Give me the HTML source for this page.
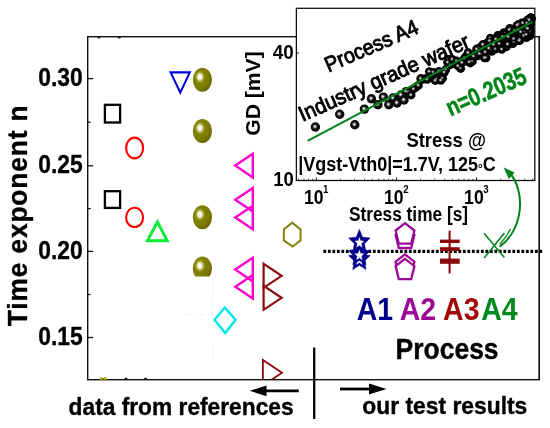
<!DOCTYPE html><html><head><meta charset="utf-8"><title>Time exponent n</title>
<style>html,body{margin:0;padding:0;background:#fff;overflow:hidden}svg{display:block}text{font-family:"Liberation Sans",Arial,sans-serif;font-weight:bold}.h{stroke:#000;stroke-width:0.35px}.r{font-weight:normal}</style></head><body>
<svg width="550" height="428" viewBox="0 0 550 428">
<defs><radialGradient id="ball" cx="0.37" cy="0.38" r="0.62" fx="0.37" fy="0.38"><stop offset="0" stop-color="#ffffff"/><stop offset="0.1" stop-color="#ffffff"/><stop offset="0.2" stop-color="#e4e2b4"/><stop offset="0.32" stop-color="#a09c30"/><stop offset="0.44" stop-color="#828200"/><stop offset="0.72" stop-color="#7c7c00"/><stop offset="1" stop-color="#6a6800"/></radialGradient>
<radialGradient id="bb" cx="0.45" cy="0.45" r="0.5"><stop offset="0" stop-color="#ffffff"/><stop offset="0.2" stop-color="#b8b8b8"/><stop offset="0.5" stop-color="#161616"/><stop offset="1" stop-color="#000"/></radialGradient><radialGradient id="b2" cx="0.45" cy="0.45" r="0.5"><stop offset="0" stop-color="#e0e0e0"/><stop offset="0.2" stop-color="#707070"/><stop offset="0.42" stop-color="#080808"/><stop offset="1" stop-color="#000"/></radialGradient></defs>
<rect width="550" height="428" fill="#fff"/>
<rect x="87.7" y="36.7" width="451.59999999999997" height="343.0" fill="none" stroke="#111" stroke-width="1.4"/>
<line x1="87.7" x2="93.2" y1="78.6" y2="78.6" stroke="#111" stroke-width="1.3"/>
<text class="h" x="38.3" y="86.0" font-size="26" textLength="44.5" lengthAdjust="spacingAndGlyphs">0.30</text>
<line x1="87.7" x2="93.2" y1="165.8" y2="165.8" stroke="#111" stroke-width="1.3"/>
<text class="h" x="38.3" y="173.2" font-size="26" textLength="44.5" lengthAdjust="spacingAndGlyphs">0.25</text>
<line x1="87.7" x2="93.2" y1="251.4" y2="251.4" stroke="#111" stroke-width="1.3"/>
<text class="h" x="38.3" y="258.8" font-size="26" textLength="44.5" lengthAdjust="spacingAndGlyphs">0.20</text>
<line x1="87.7" x2="93.2" y1="337.5" y2="337.5" stroke="#111" stroke-width="1.3"/>
<text class="h" x="38.3" y="344.9" font-size="26" textLength="44.5" lengthAdjust="spacingAndGlyphs">0.15</text>
<line x1="87.7" x2="90.7" y1="122.2" y2="122.2" stroke="#111" stroke-width="1.2"/>
<line x1="87.7" x2="90.7" y1="208.6" y2="208.6" stroke="#111" stroke-width="1.2"/>
<line x1="87.7" x2="90.7" y1="294.5" y2="294.5" stroke="#111" stroke-width="1.2"/>
<path d="M96.9 36.7 h4 l-1 1.9 h-2 z" fill="#222"/>
<path d="M117.2 36.7 h4 l-1 1.9 h-2 z" fill="#222"/>
<path d="M100 377.4 l6.4 2.6 m0 -2.6 l-6.4 2.6" stroke="#9a9a00" stroke-width="1.3" fill="none"/>
<path d="M123.8 379.7 l1.4 -2 h1.6 l1.4 2 z" fill="#111"/>
<path d="M143.4 379.7 l1.4 -2 h1.6 l1.4 2 z" fill="#111"/>
<text class="h" transform="translate(27,326.2) rotate(-90) scale(0.92,1)" font-size="28.5" textLength="240" lengthAdjust="spacing">Time exponent n</text>
<rect x="104.9" y="104.8" width="15.199999999999989" height="17.700000000000003" fill="none" stroke="#000" stroke-width="2.3"/>
<rect x="104.9" y="191.2" width="15.199999999999989" height="16.700000000000017" fill="none" stroke="#000" stroke-width="2.3"/>
<ellipse cx="134.6" cy="148" rx="8.5" ry="10.4" fill="none" stroke="#f00" stroke-width="2.1"/>
<ellipse cx="134.6" cy="217.4" rx="8.5" ry="9.6" fill="none" stroke="#f00" stroke-width="2.1"/>
<polygon points="157.4,221.8 147.5,240.7 167.2,240.7" fill="none" stroke="#00ee30" stroke-width="2.9" stroke-linejoin="miter" />
<polygon points="170.6,72.4 189.8,72.4 180.3,92.6" fill="none" stroke="#0000dd" stroke-width="2.1" stroke-linejoin="miter" />
<ellipse cx="202.4" cy="79.8" rx="9.6" ry="12" fill="url(#ball)"/>
<ellipse cx="202.4" cy="130.9" rx="9.6" ry="12" fill="url(#ball)"/>
<ellipse cx="202.4" cy="217.3" rx="9.6" ry="12" fill="url(#ball)"/>
<clipPath id="c4"><rect x="190" y="250" width="26" height="26.6"/></clipPath>
<ellipse cx="202.4" cy="268.6" rx="9.6" ry="12" fill="url(#ball)" clip-path="url(#c4)"/>
<path d="M212.7 278 V300 M212.7 308 V322 M212.7 344 V360" stroke="#ececec" stroke-width="0.8"/>
<path d="M186 314.7 H192 M197 314.7 H204" stroke="#ececec" stroke-width="0.8"/>
<polygon points="252.8,153.8 252.8,177.4 235.3,165.6" fill="none" stroke="#ff00d0" stroke-width="2.4" stroke-linejoin="miter" />
<polygon points="252.8,188.0 252.8,211.6 235.3,199.8" fill="none" stroke="#ff00d0" stroke-width="2.4" stroke-linejoin="miter" />
<polygon points="252.8,205.7 252.8,229.3 235.3,217.5" fill="none" stroke="#ff00d0" stroke-width="2.4" stroke-linejoin="miter" />
<polygon points="252.8,257.8 252.8,281.4 235.3,269.6" fill="none" stroke="#ff00d0" stroke-width="2.4" stroke-linejoin="miter" />
<polygon points="252.8,275.0 252.8,298.6 235.3,286.8" fill="none" stroke="#ff00d0" stroke-width="2.4" stroke-linejoin="miter" />
<polygon points="224.8,307.6 235.6,319.8 225.2,333.0 214.6,319.8" fill="none" stroke="#00e4ee" stroke-width="2.4" stroke-linejoin="miter" />
<polygon points="263.6,263.8 263.6,287.8 281.6,275.8" fill="none" stroke="#8b0a0a" stroke-width="2.2" stroke-linejoin="miter" />
<polygon points="263.6,285.8 263.6,309.8 281.6,297.8" fill="none" stroke="#8b0a0a" stroke-width="2.2" stroke-linejoin="miter" />
<clipPath id="cb"><rect x="250" y="340" width="50" height="39.6"/></clipPath>
<polygon points="262.9,360.0 262.9,385.5 282.0,372.7" fill="none" stroke="#8b0a0a" stroke-width="1.8" stroke-linejoin="miter" clip-path="url(#cb)"/>
<polygon points="292.2,222.6 300.6,229.4 300.6,240.4 292.6,246.6 283.8,240.4 283.8,229.4" fill="none" stroke="#84840a" stroke-width="2" stroke-linejoin="miter" />
<line x1="323.4" x2="543" y1="251.4" y2="251.4" stroke="#000" stroke-width="3.1" stroke-dasharray="2.8 1.7"/>
<polygon points="359.4,246.8 362.5,254.7 370.1,255.5 364.3,261.2 366.0,269.6 359.4,265.2 352.8,269.6 354.5,261.2 348.7,255.5 356.3,254.7" fill="#00008b" stroke="#00008b" stroke-width="0.6" stroke-linejoin="miter" />
<polygon points="359.4,254.8 360.6,258.2 363.9,258.5 361.4,261.0 362.2,264.6 359.4,262.6 356.6,264.6 357.4,261.0 354.9,258.5 358.2,258.2" fill="#fff" stroke="#fff" stroke-width="0.3" stroke-linejoin="miter" />
<polygon points="359.4,242.0 362.5,249.9 370.1,250.7 364.3,256.4 366.0,264.8 359.4,260.4 352.8,264.8 354.5,256.4 348.7,250.7 356.3,249.9" fill="#00008b" stroke="#00008b" stroke-width="0.6" stroke-linejoin="miter" />
<polygon points="359.4,250.0 360.6,253.4 363.9,253.7 361.4,256.2 362.2,259.8 359.4,257.8 356.6,259.8 357.4,256.2 354.9,253.7 358.2,253.4" fill="#fff" stroke="#fff" stroke-width="0.3" stroke-linejoin="miter" />
<polygon points="359.4,229.4 362.5,237.3 370.1,238.1 364.3,243.8 366.0,252.2 359.4,247.8 352.8,252.2 354.5,243.8 348.7,238.1 356.3,237.3" fill="#00008b" stroke="#00008b" stroke-width="0.6" stroke-linejoin="miter" />
<polygon points="359.4,237.4 360.6,240.8 363.9,241.1 361.4,243.6 362.2,247.2 359.4,245.2 356.6,247.2 357.4,243.6 354.9,241.1 358.2,240.8" fill="#fff" stroke="#fff" stroke-width="0.3" stroke-linejoin="miter" />
<polygon points="405.0,227.6 414.4,234.9 411.2,248.0 398.8,248.0 395.6,234.9" fill="#fff" stroke="#9a0a96" stroke-width="2.3" stroke-linejoin="miter" />
<polygon points="405.0,223.2 414.4,230.5 411.2,243.6 398.8,243.6 395.6,230.5" fill="#fff" stroke="#9a0a96" stroke-width="2.3" stroke-linejoin="miter" />
<polygon points="405.0,254.4 414.4,261.7 411.2,274.8 398.8,274.8 395.6,261.7" fill="#fff" stroke="#9a0a96" stroke-width="2.3" stroke-linejoin="miter" />
<polygon points="405.0,258.8 414.4,266.1 411.2,279.2 398.8,279.2 395.6,266.1" fill="#fff" stroke="#9a0a96" stroke-width="2.3" stroke-linejoin="miter" />
<line x1="449.6" x2="449.6" y1="230.6" y2="273.4" stroke="#8b0a0a" stroke-width="2.1"/>
<line x1="440" x2="459.7" y1="241.3" y2="241.3" stroke="#8b0a0a" stroke-width="3.4"/>
<line x1="440" x2="459.7" y1="249.1" y2="249.1" stroke="#8b0a0a" stroke-width="3.8"/>
<line x1="440" x2="459.7" y1="261.2" y2="261.2" stroke="#8b0a0a" stroke-width="5.2"/>
<path d="M484 233.2 L504.4 257.6 M504.4 233 L484.2 258" stroke="#00821e" stroke-width="1.5" fill="none"/>
<text x="356.8" y="319.9" font-size="31" fill="#00008b" textLength="36.4" lengthAdjust="spacingAndGlyphs">A1</text>
<text x="399.8" y="319.9" font-size="31" fill="#9a0a96" textLength="36.4" lengthAdjust="spacingAndGlyphs">A2</text>
<text x="443.1" y="319.9" font-size="31" fill="#a00a0a" textLength="36.4" lengthAdjust="spacingAndGlyphs">A3</text>
<text x="481.3" y="319.9" font-size="31" fill="#008a1e" textLength="36.4" lengthAdjust="spacingAndGlyphs">A4</text>
<text class="h" x="395.6" y="359.4" font-size="29.5" textLength="103" lengthAdjust="spacingAndGlyphs">Process</text>
<line x1="314.2" x2="314.2" y1="347.5" y2="419" stroke="#000" stroke-width="2.3"/>
<text class="h" x="68.6" y="414.6" font-size="24" textLength="225" lengthAdjust="spacingAndGlyphs">data from references</text>
<text class="h" x="362.3" y="413.6" font-size="24" textLength="165" lengthAdjust="spacingAndGlyphs">our test results</text>
<path d="M298.8 390.8 H262" stroke="#000" stroke-width="2.8"/><polygon points="249.6,390.8 266.5,385.4 266.5,396.2"/>
<path d="M340 389 H372" stroke="#000" stroke-width="2.8"/><polygon points="386.5,389 369,383.6 369,394.4"/>
<rect x="296.4" y="8.3" width="238.39999999999998" height="172.2" fill="#fff" stroke="#111" stroke-width="1.3"/>
<text x="272.8" y="59" font-size="20" textLength="21" lengthAdjust="spacingAndGlyphs">40</text>
<text x="273.2" y="185.6" font-size="20" textLength="20.6" lengthAdjust="spacingAndGlyphs">10</text>
<line x1="296.4" x2="298.9" y1="53" y2="53" stroke="#000"/>
<text transform="translate(260.4,93.5) rotate(-90)" font-size="20" text-anchor="middle" textLength="84.5" lengthAdjust="spacingAndGlyphs">GD [mV]</text>
<text x="303.90000000000003" y="204.4" font-size="21" textLength="19.6" lengthAdjust="spacingAndGlyphs">10</text>
<text x="323.1" y="192.9" font-size="10.5" textLength="5.4" lengthAdjust="spacingAndGlyphs">1</text>
<line x1="316.3" x2="316.3" y1="180.5" y2="177.5" stroke="#000" stroke-width="1"/>
<text x="384.0" y="204.4" font-size="21" textLength="19.6" lengthAdjust="spacingAndGlyphs">10</text>
<text x="403.2" y="192.9" font-size="10.5" textLength="5.4" lengthAdjust="spacingAndGlyphs">2</text>
<line x1="396.4" x2="396.4" y1="180.5" y2="177.5" stroke="#000" stroke-width="1"/>
<text x="464.1" y="204.4" font-size="21" textLength="19.6" lengthAdjust="spacingAndGlyphs">10</text>
<text x="483.3" y="192.9" font-size="10.5" textLength="5.4" lengthAdjust="spacingAndGlyphs">3</text>
<line x1="476.5" x2="476.5" y1="180.5" y2="177.5" stroke="#000" stroke-width="1"/>
<line x1="298.5" x2="298.5" y1="180.5" y2="178.7" stroke="#000" stroke-width="0.7"/>
<line x1="303.9" x2="303.9" y1="180.5" y2="178.7" stroke="#000" stroke-width="0.7"/>
<line x1="308.5" x2="308.5" y1="180.5" y2="178.7" stroke="#000" stroke-width="0.7"/>
<line x1="312.6" x2="312.6" y1="180.5" y2="178.7" stroke="#000" stroke-width="0.7"/>
<line x1="340.4" x2="340.4" y1="180.5" y2="178.7" stroke="#000" stroke-width="0.7"/>
<line x1="354.5" x2="354.5" y1="180.5" y2="178.7" stroke="#000" stroke-width="0.7"/>
<line x1="364.5" x2="364.5" y1="180.5" y2="178.7" stroke="#000" stroke-width="0.7"/>
<line x1="372.3" x2="372.3" y1="180.5" y2="178.7" stroke="#000" stroke-width="0.7"/>
<line x1="378.6" x2="378.6" y1="180.5" y2="178.7" stroke="#000" stroke-width="0.7"/>
<line x1="384.0" x2="384.0" y1="180.5" y2="178.7" stroke="#000" stroke-width="0.7"/>
<line x1="388.6" x2="388.6" y1="180.5" y2="178.7" stroke="#000" stroke-width="0.7"/>
<line x1="392.7" x2="392.7" y1="180.5" y2="178.7" stroke="#000" stroke-width="0.7"/>
<line x1="420.5" x2="420.5" y1="180.5" y2="178.7" stroke="#000" stroke-width="0.7"/>
<line x1="434.6" x2="434.6" y1="180.5" y2="178.7" stroke="#000" stroke-width="0.7"/>
<line x1="444.6" x2="444.6" y1="180.5" y2="178.7" stroke="#000" stroke-width="0.7"/>
<line x1="452.4" x2="452.4" y1="180.5" y2="178.7" stroke="#000" stroke-width="0.7"/>
<line x1="458.7" x2="458.7" y1="180.5" y2="178.7" stroke="#000" stroke-width="0.7"/>
<line x1="464.1" x2="464.1" y1="180.5" y2="178.7" stroke="#000" stroke-width="0.7"/>
<line x1="468.7" x2="468.7" y1="180.5" y2="178.7" stroke="#000" stroke-width="0.7"/>
<line x1="472.8" x2="472.8" y1="180.5" y2="178.7" stroke="#000" stroke-width="0.7"/>
<line x1="500.6" x2="500.6" y1="180.5" y2="178.7" stroke="#000" stroke-width="0.7"/>
<line x1="514.7" x2="514.7" y1="180.5" y2="178.7" stroke="#000" stroke-width="0.7"/>
<line x1="524.7" x2="524.7" y1="180.5" y2="178.7" stroke="#000" stroke-width="0.7"/>
<line x1="532.5" x2="532.5" y1="180.5" y2="178.7" stroke="#000" stroke-width="0.7"/>
<text x="349" y="221.4" font-size="20" textLength="119" lengthAdjust="spacingAndGlyphs">Stress time [s]</text>
<circle cx="315.4" cy="127.0" r="4.7" fill="url(#bb)"/>
<circle cx="339.7" cy="114.3" r="4.7" fill="url(#bb)"/>
<circle cx="354.8" cy="124.8" r="4.7" fill="url(#bb)"/>
<circle cx="364.4" cy="109.1" r="4.7" fill="url(#bb)"/>
<circle cx="371.4" cy="98.8" r="4.7" fill="url(#bb)"/>
<circle cx="377.9" cy="104.7" r="4.7" fill="url(#bb)"/>
<circle cx="383.4" cy="97.1" r="4.7" fill="url(#bb)"/>
<circle cx="388.8" cy="104.7" r="4.7" fill="url(#bb)"/>
<circle cx="393.0" cy="98.0" r="4.7" fill="url(#bb)"/>
<circle cx="397.0" cy="103.0" r="4.7" fill="url(#bb)"/>
<circle cx="401.0" cy="95.0" r="4.7" fill="url(#bb)"/>
<circle cx="404.0" cy="100.0" r="4.7" fill="url(#bb)"/>
<circle cx="406.0" cy="91.4" r="4.4" fill="url(#b2)"/>
<circle cx="408.6" cy="92.3" r="4.4" fill="url(#b2)"/>
<circle cx="411.1" cy="95.0" r="4.4" fill="url(#b2)"/>
<circle cx="413.6" cy="89.0" r="4.4" fill="url(#b2)"/>
<circle cx="416.0" cy="87.2" r="4.4" fill="url(#b2)"/>
<circle cx="418.4" cy="85.4" r="4.4" fill="url(#b2)"/>
<circle cx="420.7" cy="78.5" r="4.4" fill="url(#b2)"/>
<circle cx="422.9" cy="79.4" r="4.4" fill="url(#b2)"/>
<circle cx="425.1" cy="78.7" r="4.4" fill="url(#b2)"/>
<circle cx="427.2" cy="79.3" r="4.4" fill="url(#b2)"/>
<circle cx="429.3" cy="71.6" r="4.4" fill="url(#b2)"/>
<circle cx="431.3" cy="74.1" r="4.4" fill="url(#b2)"/>
<circle cx="433.3" cy="72.3" r="4.4" fill="url(#b2)"/>
<circle cx="435.2" cy="80.5" r="4.4" fill="url(#b2)"/>
<circle cx="437.1" cy="79.2" r="4.4" fill="url(#b2)"/>
<circle cx="439.0" cy="71.4" r="4.4" fill="url(#b2)"/>
<circle cx="440.8" cy="80.4" r="4.4" fill="url(#b2)"/>
<circle cx="442.5" cy="78.2" r="4.4" fill="url(#b2)"/>
<circle cx="444.3" cy="72.3" r="4.4" fill="url(#b2)"/>
<circle cx="445.9" cy="69.5" r="4.4" fill="url(#b2)"/>
<circle cx="447.6" cy="62.3" r="4.4" fill="url(#b2)"/>
<circle cx="449.2" cy="59.3" r="4.4" fill="url(#b2)"/>
<circle cx="450.7" cy="64.5" r="4.4" fill="url(#b2)"/>
<circle cx="452.3" cy="59.3" r="4.4" fill="url(#b2)"/>
<circle cx="453.8" cy="61.4" r="4.4" fill="url(#b2)"/>
<circle cx="455.2" cy="62.8" r="4.4" fill="url(#b2)"/>
<circle cx="456.6" cy="60.9" r="4.4" fill="url(#b2)"/>
<circle cx="458.0" cy="66.0" r="4.4" fill="url(#b2)"/>
<circle cx="459.4" cy="65.1" r="4.4" fill="url(#b2)"/>
<circle cx="460.7" cy="68.5" r="4.4" fill="url(#b2)"/>
<circle cx="462.0" cy="62.7" r="4.4" fill="url(#b2)"/>
<circle cx="463.3" cy="61.9" r="4.4" fill="url(#b2)"/>
<circle cx="464.5" cy="58.1" r="4.4" fill="url(#b2)"/>
<circle cx="465.8" cy="58.5" r="4.4" fill="url(#b2)"/>
<circle cx="467.0" cy="55.1" r="4.4" fill="url(#b2)"/>
<circle cx="468.1" cy="52.7" r="4.4" fill="url(#b2)"/>
<circle cx="469.3" cy="62.1" r="4.4" fill="url(#b2)"/>
<circle cx="470.4" cy="63.0" r="4.4" fill="url(#b2)"/>
<circle cx="471.5" cy="62.0" r="4.4" fill="url(#b2)"/>
<circle cx="472.5" cy="61.1" r="4.4" fill="url(#b2)"/>
<circle cx="473.6" cy="56.2" r="4.4" fill="url(#b2)"/>
<circle cx="474.6" cy="54.4" r="4.4" fill="url(#b2)"/>
<circle cx="475.6" cy="53.7" r="4.4" fill="url(#b2)"/>
<circle cx="476.6" cy="49.0" r="4.4" fill="url(#b2)"/>
<circle cx="477.5" cy="55.8" r="4.4" fill="url(#b2)"/>
<circle cx="478.5" cy="49.3" r="4.4" fill="url(#b2)"/>
<circle cx="479.4" cy="53.7" r="4.4" fill="url(#b2)"/>
<circle cx="480.3" cy="47.3" r="4.4" fill="url(#b2)"/>
<circle cx="481.2" cy="54.8" r="4.4" fill="url(#b2)"/>
<circle cx="482.0" cy="54.2" r="4.4" fill="url(#b2)"/>
<circle cx="482.9" cy="44.5" r="4.4" fill="url(#b2)"/>
<circle cx="483.7" cy="48.2" r="4.4" fill="url(#b2)"/>
<circle cx="484.5" cy="57.8" r="4.4" fill="url(#b2)"/>
<circle cx="485.3" cy="52.1" r="4.4" fill="url(#b2)"/>
<circle cx="486.1" cy="57.9" r="4.4" fill="url(#b2)"/>
<circle cx="486.9" cy="48.8" r="4.4" fill="url(#b2)"/>
<circle cx="487.6" cy="42.7" r="4.4" fill="url(#b2)"/>
<circle cx="488.3" cy="48.0" r="4.4" fill="url(#b2)"/>
<circle cx="489.0" cy="48.4" r="4.4" fill="url(#b2)"/>
<circle cx="489.7" cy="40.8" r="4.4" fill="url(#b2)"/>
<circle cx="490.4" cy="38.2" r="4.4" fill="url(#b2)"/>
<circle cx="491.1" cy="41.9" r="4.4" fill="url(#b2)"/>
<circle cx="491.8" cy="51.3" r="4.4" fill="url(#b2)"/>
<circle cx="492.4" cy="49.8" r="4.4" fill="url(#b2)"/>
<circle cx="493.1" cy="42.4" r="4.4" fill="url(#b2)"/>
<circle cx="493.7" cy="44.6" r="4.4" fill="url(#b2)"/>
<circle cx="494.3" cy="42.4" r="4.4" fill="url(#b2)"/>
<circle cx="494.9" cy="40.9" r="4.4" fill="url(#b2)"/>
<circle cx="495.5" cy="49.2" r="4.4" fill="url(#b2)"/>
<circle cx="496.0" cy="39.1" r="4.4" fill="url(#b2)"/>
<circle cx="496.6" cy="42.4" r="4.4" fill="url(#b2)"/>
<circle cx="497.2" cy="39.6" r="4.4" fill="url(#b2)"/>
<circle cx="497.7" cy="35.5" r="4.4" fill="url(#b2)"/>
<circle cx="498.2" cy="42.9" r="4.4" fill="url(#b2)"/>
<circle cx="498.8" cy="35.6" r="4.4" fill="url(#b2)"/>
<circle cx="499.3" cy="43.7" r="4.4" fill="url(#b2)"/>
<circle cx="499.8" cy="37.9" r="4.4" fill="url(#b2)"/>
<circle cx="500.3" cy="43.0" r="4.4" fill="url(#b2)"/>
<circle cx="500.8" cy="40.5" r="4.4" fill="url(#b2)"/>
<circle cx="501.3" cy="40.9" r="4.4" fill="url(#b2)"/>
<circle cx="501.8" cy="49.3" r="4.4" fill="url(#b2)"/>
<circle cx="502.3" cy="45.4" r="4.4" fill="url(#b2)"/>
<circle cx="502.8" cy="36.8" r="4.4" fill="url(#b2)"/>
<circle cx="503.3" cy="43.1" r="4.4" fill="url(#b2)"/>
<circle cx="503.8" cy="32.7" r="4.4" fill="url(#b2)"/>
<circle cx="504.3" cy="34.8" r="4.4" fill="url(#b2)"/>
<circle cx="504.8" cy="41.5" r="4.4" fill="url(#b2)"/>
<circle cx="505.3" cy="39.6" r="4.4" fill="url(#b2)"/>
<circle cx="505.8" cy="33.4" r="4.4" fill="url(#b2)"/>
<circle cx="506.3" cy="46.9" r="4.4" fill="url(#b2)"/>
<circle cx="506.8" cy="37.0" r="4.4" fill="url(#b2)"/>
<circle cx="507.3" cy="37.7" r="4.4" fill="url(#b2)"/>
<circle cx="507.8" cy="44.3" r="4.4" fill="url(#b2)"/>
<circle cx="508.3" cy="36.8" r="4.4" fill="url(#b2)"/>
<circle cx="508.8" cy="34.6" r="4.4" fill="url(#b2)"/>
<circle cx="509.3" cy="29.7" r="4.4" fill="url(#b2)"/>
<circle cx="509.8" cy="28.4" r="4.4" fill="url(#b2)"/>
<circle cx="510.3" cy="34.4" r="4.4" fill="url(#b2)"/>
<circle cx="510.8" cy="29.4" r="4.4" fill="url(#b2)"/>
<circle cx="511.3" cy="35.0" r="4.4" fill="url(#b2)"/>
<circle cx="511.8" cy="32.9" r="4.4" fill="url(#b2)"/>
<circle cx="512.3" cy="35.4" r="4.4" fill="url(#b2)"/>
<circle cx="512.8" cy="43.6" r="4.4" fill="url(#b2)"/>
<circle cx="513.3" cy="37.6" r="4.4" fill="url(#b2)"/>
<circle cx="513.8" cy="38.8" r="4.4" fill="url(#b2)"/>
<circle cx="514.3" cy="42.0" r="4.4" fill="url(#b2)"/>
<circle cx="514.8" cy="30.9" r="4.4" fill="url(#b2)"/>
<circle cx="515.3" cy="28.7" r="4.4" fill="url(#b2)"/>
<circle cx="515.8" cy="37.6" r="4.4" fill="url(#b2)"/>
<circle cx="516.3" cy="35.0" r="4.4" fill="url(#b2)"/>
<circle cx="516.8" cy="26.2" r="4.4" fill="url(#b2)"/>
<circle cx="517.3" cy="25.4" r="4.4" fill="url(#b2)"/>
<circle cx="517.8" cy="34.0" r="4.4" fill="url(#b2)"/>
<circle cx="518.3" cy="38.1" r="4.4" fill="url(#b2)"/>
<circle cx="518.8" cy="28.8" r="4.4" fill="url(#b2)"/>
<circle cx="519.3" cy="40.6" r="4.4" fill="url(#b2)"/>
<circle cx="519.8" cy="40.1" r="4.4" fill="url(#b2)"/>
<circle cx="520.3" cy="35.7" r="4.4" fill="url(#b2)"/>
<circle cx="520.8" cy="32.0" r="4.4" fill="url(#b2)"/>
<circle cx="521.3" cy="25.8" r="4.4" fill="url(#b2)"/>
<circle cx="521.8" cy="23.0" r="4.4" fill="url(#b2)"/>
<circle cx="522.3" cy="34.8" r="4.4" fill="url(#b2)"/>
<circle cx="522.8" cy="23.1" r="4.4" fill="url(#b2)"/>
<circle cx="523.3" cy="29.4" r="4.4" fill="url(#b2)"/>
<circle cx="523.8" cy="23.2" r="4.4" fill="url(#b2)"/>
<circle cx="524.3" cy="32.4" r="4.4" fill="url(#b2)"/>
<circle cx="524.8" cy="30.3" r="4.4" fill="url(#b2)"/>
<circle cx="525.3" cy="27.2" r="4.4" fill="url(#b2)"/>
<circle cx="525.8" cy="26.3" r="4.4" fill="url(#b2)"/>
<circle cx="526.3" cy="34.5" r="4.4" fill="url(#b2)"/>
<circle cx="526.8" cy="24.3" r="4.4" fill="url(#b2)"/>
<circle cx="527.3" cy="25.4" r="4.4" fill="url(#b2)"/>
<circle cx="527.8" cy="28.6" r="4.4" fill="url(#b2)"/>
<circle cx="528.3" cy="31.1" r="4.4" fill="url(#b2)"/>
<circle cx="528.8" cy="26.0" r="4.4" fill="url(#b2)"/>
<circle cx="529.3" cy="20.1" r="4.4" fill="url(#b2)"/>
<circle cx="529.8" cy="29.3" r="4.4" fill="url(#b2)"/>
<circle cx="530.3" cy="19.3" r="4.4" fill="url(#b2)"/>
<circle cx="530.8" cy="17.6" r="4.4" fill="url(#b2)"/>
<circle cx="521.6" cy="30.5" r="4.4" fill="url(#b2)"/>
<circle cx="518.8" cy="27.1" r="4.4" fill="url(#b2)"/>
<circle cx="523.0" cy="32.0" r="4.4" fill="url(#b2)"/>
<circle cx="519.8" cy="30.0" r="4.4" fill="url(#b2)"/>
<circle cx="530.0" cy="35.7" r="4.4" fill="url(#b2)"/>
<circle cx="526.9" cy="32.1" r="4.4" fill="url(#b2)"/>
<circle cx="525.9" cy="22.7" r="4.4" fill="url(#b2)"/>
<circle cx="518.5" cy="24.5" r="4.4" fill="url(#b2)"/>
<circle cx="530.3" cy="30.5" r="4.4" fill="url(#b2)"/>
<circle cx="531.0" cy="17.9" r="4.4" fill="url(#b2)"/>
<circle cx="526.6" cy="28.5" r="4.4" fill="url(#b2)"/>
<circle cx="527.9" cy="24.9" r="4.4" fill="url(#b2)"/>
<circle cx="531.5" cy="18.6" r="4.4" fill="url(#b2)"/>
<circle cx="525.4" cy="33.7" r="4.4" fill="url(#b2)"/>
<circle cx="530.2" cy="31.2" r="4.4" fill="url(#b2)"/>
<circle cx="527.5" cy="33.6" r="4.4" fill="url(#b2)"/>
<circle cx="530.4" cy="24.2" r="4.4" fill="url(#b2)"/>
<circle cx="527.2" cy="35.7" r="4.4" fill="url(#b2)"/>
<circle cx="529.8" cy="25.7" r="4.4" fill="url(#b2)"/>
<circle cx="528.7" cy="34.3" r="4.4" fill="url(#b2)"/>
<circle cx="525.7" cy="31.5" r="4.4" fill="url(#b2)"/>
<circle cx="523.2" cy="32.1" r="4.4" fill="url(#b2)"/>
<circle cx="526.2" cy="21.5" r="4.4" fill="url(#b2)"/>
<circle cx="526.6" cy="37.7" r="4.4" fill="url(#b2)"/>
<circle cx="529.9" cy="31.2" r="4.4" fill="url(#b2)"/>
<circle cx="523.2" cy="34.8" r="4.4" fill="url(#b2)"/>
<circle cx="525.8" cy="28.2" r="4.4" fill="url(#b2)"/>
<circle cx="529.3" cy="19.9" r="4.4" fill="url(#b2)"/>
<circle cx="528.1" cy="19.6" r="4.4" fill="url(#b2)"/>
<circle cx="526.1" cy="28.7" r="4.4" fill="url(#b2)"/>
<circle cx="521.1" cy="35.3" r="4.4" fill="url(#b2)"/>
<circle cx="524.7" cy="31.9" r="4.4" fill="url(#b2)"/>
<circle cx="530.4" cy="22.4" r="4.4" fill="url(#b2)"/>
<circle cx="518.2" cy="29.7" r="4.4" fill="url(#b2)"/>
<circle cx="527.2" cy="23.2" r="4.4" fill="url(#b2)"/>
<circle cx="520.3" cy="39.5" r="4.4" fill="url(#b2)"/>
<circle cx="526.9" cy="27.6" r="4.4" fill="url(#b2)"/>
<circle cx="530.0" cy="23.9" r="4.4" fill="url(#b2)"/>
<circle cx="527.0" cy="23.2" r="4.4" fill="url(#b2)"/>
<circle cx="523.8" cy="35.8" r="4.4" fill="url(#b2)"/>
<circle cx="405.7" cy="91.1" r="1.25" fill="#cfcfcf" stroke="#666" stroke-width="0.5"/>
<circle cx="410.8" cy="94.7" r="1.25" fill="#cfcfcf" stroke="#666" stroke-width="0.5"/>
<circle cx="413.3" cy="88.7" r="1.25" fill="#cfcfcf" stroke="#666" stroke-width="0.5"/>
<circle cx="418.1" cy="85.1" r="1.25" fill="#cfcfcf" stroke="#666" stroke-width="0.5"/>
<circle cx="420.4" cy="78.2" r="1.25" fill="#cfcfcf" stroke="#666" stroke-width="0.5"/>
<circle cx="426.9" cy="79.0" r="1.25" fill="#cfcfcf" stroke="#666" stroke-width="0.5"/>
<circle cx="429.0" cy="71.3" r="1.25" fill="#cfcfcf" stroke="#666" stroke-width="0.5"/>
<circle cx="434.9" cy="80.2" r="1.25" fill="#cfcfcf" stroke="#666" stroke-width="0.5"/>
<circle cx="438.7" cy="71.1" r="1.25" fill="#cfcfcf" stroke="#666" stroke-width="0.5"/>
<circle cx="440.5" cy="80.1" r="1.25" fill="#cfcfcf" stroke="#666" stroke-width="0.5"/>
<circle cx="444.0" cy="72.0" r="1.25" fill="#cfcfcf" stroke="#666" stroke-width="0.5"/>
<circle cx="447.3" cy="62.0" r="1.25" fill="#cfcfcf" stroke="#666" stroke-width="0.5"/>
<circle cx="452.0" cy="59.0" r="1.25" fill="#cfcfcf" stroke="#666" stroke-width="0.5"/>
<circle cx="457.7" cy="65.7" r="1.25" fill="#cfcfcf" stroke="#666" stroke-width="0.5"/>
<circle cx="461.7" cy="62.4" r="1.25" fill="#cfcfcf" stroke="#666" stroke-width="0.5"/>
<circle cx="464.2" cy="57.8" r="1.25" fill="#cfcfcf" stroke="#666" stroke-width="0.5"/>
<circle cx="467.8" cy="52.4" r="1.25" fill="#cfcfcf" stroke="#666" stroke-width="0.5"/>
<circle cx="469.0" cy="61.8" r="1.25" fill="#cfcfcf" stroke="#666" stroke-width="0.5"/>
<circle cx="473.3" cy="55.9" r="1.25" fill="#cfcfcf" stroke="#666" stroke-width="0.5"/>
<circle cx="476.3" cy="48.7" r="1.25" fill="#cfcfcf" stroke="#666" stroke-width="0.5"/>
<circle cx="479.1" cy="53.4" r="1.25" fill="#cfcfcf" stroke="#666" stroke-width="0.5"/>
<circle cx="482.6" cy="44.2" r="1.25" fill="#cfcfcf" stroke="#666" stroke-width="0.5"/>
<circle cx="484.2" cy="57.5" r="1.25" fill="#cfcfcf" stroke="#666" stroke-width="0.5"/>
<circle cx="485.0" cy="51.8" r="1.25" fill="#cfcfcf" stroke="#666" stroke-width="0.5"/>
<circle cx="488.7" cy="48.1" r="1.25" fill="#cfcfcf" stroke="#666" stroke-width="0.5"/>
<circle cx="489.4" cy="40.5" r="1.25" fill="#cfcfcf" stroke="#666" stroke-width="0.5"/>
<circle cx="493.4" cy="44.3" r="1.25" fill="#cfcfcf" stroke="#666" stroke-width="0.5"/>
<circle cx="495.7" cy="38.8" r="1.25" fill="#cfcfcf" stroke="#666" stroke-width="0.5"/>
<circle cx="499.0" cy="43.4" r="1.25" fill="#cfcfcf" stroke="#666" stroke-width="0.5"/>
<circle cx="501.5" cy="49.0" r="1.25" fill="#cfcfcf" stroke="#666" stroke-width="0.5"/>
<circle cx="502.5" cy="36.5" r="1.25" fill="#cfcfcf" stroke="#666" stroke-width="0.5"/>
<circle cx="507.5" cy="44.0" r="1.25" fill="#cfcfcf" stroke="#666" stroke-width="0.5"/>
<circle cx="508.0" cy="36.5" r="1.25" fill="#cfcfcf" stroke="#666" stroke-width="0.5"/>
<circle cx="509.0" cy="29.4" r="1.25" fill="#cfcfcf" stroke="#666" stroke-width="0.5"/>
<circle cx="513.5" cy="38.5" r="1.25" fill="#cfcfcf" stroke="#666" stroke-width="0.5"/>
<circle cx="514.5" cy="30.6" r="1.25" fill="#cfcfcf" stroke="#666" stroke-width="0.5"/>
<circle cx="517.0" cy="25.1" r="1.25" fill="#cfcfcf" stroke="#666" stroke-width="0.5"/>
<circle cx="519.0" cy="40.3" r="1.25" fill="#cfcfcf" stroke="#666" stroke-width="0.5"/>
<circle cx="520.5" cy="31.7" r="1.25" fill="#cfcfcf" stroke="#666" stroke-width="0.5"/>
<circle cx="522.5" cy="22.8" r="1.25" fill="#cfcfcf" stroke="#666" stroke-width="0.5"/>
<circle cx="526.0" cy="34.2" r="1.25" fill="#cfcfcf" stroke="#666" stroke-width="0.5"/>
<circle cx="527.5" cy="28.3" r="1.25" fill="#cfcfcf" stroke="#666" stroke-width="0.5"/>
<circle cx="529.0" cy="19.8" r="1.25" fill="#cfcfcf" stroke="#666" stroke-width="0.5"/>
<line x1="307.6" y1="140.9" x2="532.4" y2="21.8" stroke="#008418" stroke-width="2"/>
<text class="r" transform="translate(328.5,72.5) rotate(-23.5)" font-size="21.5" stroke="#000" stroke-width="0.9" textLength="100" lengthAdjust="spacingAndGlyphs">Process A4</text>
<text class="r" transform="translate(302.6,121.8) rotate(-24)" font-size="21.5" stroke="#000" stroke-width="0.9" textLength="184.5" lengthAdjust="spacingAndGlyphs">Industry grade wafer</text>
<text transform="translate(450.6,116.6) rotate(-23.7)" font-size="25" fill="#008418" stroke="#008418" stroke-width="0.5" textLength="85" lengthAdjust="spacingAndGlyphs">n=0.2035</text>
<text x="406.4" y="146.6" font-size="19.8" textLength="79.6" lengthAdjust="spacingAndGlyphs">Stress @</text>
<text x="298.2" y="171.2" font-size="20.3" textLength="197.5" lengthAdjust="spacingAndGlyphs">|Vgst-Vth0|=1.7V, 125<tspan font-size="13" dy="1.5">°</tspan><tspan dy="-1.5">C</tspan></text>
<path d="M509 172 C518 182 520.5 196 520 206 C519.5 222 512 238 499.5 246.8" stroke="#008418" stroke-width="2" fill="none"/>
<path d="M510.5 229 Q506 238 499.8 244.2" stroke="#008418" stroke-width="1.3" fill="none"/>
<polygon points="503.5,167.3 514.6,172.6 508.8,179" fill="#008418"/>
<line x1="539.3" x2="539.3" y1="36.7" y2="379.7" stroke="#111" stroke-width="1.4"/>
</svg></body></html>
